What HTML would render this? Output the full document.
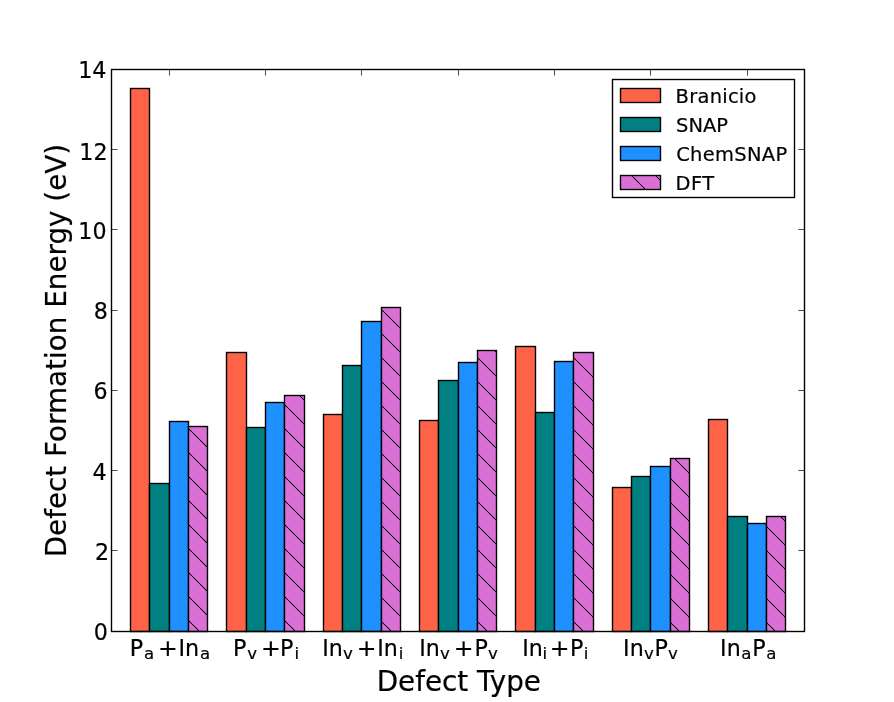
<!DOCTYPE html>
<html><head><meta charset="utf-8"><title>Defect Formation Energy</title>
<style>html,body{margin:0;padding:0;background:#fff}svg{display:block}text{font-family:"DejaVu Sans","Liberation Sans",sans-serif;fill:#000;stroke:#000;stroke-width:0.2px}</style></head><body>
<svg width="894" height="702" viewBox="0 0 894 702">
<defs><pattern id="h" patternUnits="userSpaceOnUse" x="0" y="0" width="24" height="24"><path d="M-2,-2 L26,26 M-2,22 L2,26 M22,-2 L26,2" stroke="#000" stroke-width="1" fill="none" shape-rendering="crispEdges"/><path d="M-2,-2 L26,26 M-2,22 L2,26 M22,-2 L26,2" stroke="#000" stroke-opacity="0.45" stroke-width="1.2" fill="none"/></pattern></defs>
<rect width="894" height="702" fill="#fff"/>
<rect x="130.50" y="88.50" width="19.00" height="543.00" fill="#ff6347"/>
<rect x="130.50" y="88.50" width="19.00" height="543.00" fill="none" stroke="#000" stroke-width="1.39"/>
<rect x="149.50" y="483.50" width="20.00" height="148.00" fill="#008080"/>
<rect x="149.50" y="483.50" width="20.00" height="148.00" fill="none" stroke="#000" stroke-width="1.39"/>
<rect x="169.50" y="421.50" width="19.00" height="210.00" fill="#1e90ff"/>
<rect x="169.50" y="421.50" width="19.00" height="210.00" fill="none" stroke="#000" stroke-width="1.39"/>
<rect x="188.50" y="426.50" width="19.00" height="205.00" fill="#da70d6"/>
<rect x="188.50" y="426.50" width="19.00" height="205.00" fill="url(#h)"/>
<rect x="188.50" y="426.50" width="19.00" height="205.00" fill="none" stroke="#000" stroke-width="1.39"/>
<rect x="226.50" y="352.50" width="20.00" height="279.00" fill="#ff6347"/>
<rect x="226.50" y="352.50" width="20.00" height="279.00" fill="none" stroke="#000" stroke-width="1.39"/>
<rect x="246.50" y="427.50" width="19.00" height="204.00" fill="#008080"/>
<rect x="246.50" y="427.50" width="19.00" height="204.00" fill="none" stroke="#000" stroke-width="1.39"/>
<rect x="265.50" y="402.50" width="19.00" height="229.00" fill="#1e90ff"/>
<rect x="265.50" y="402.50" width="19.00" height="229.00" fill="none" stroke="#000" stroke-width="1.39"/>
<rect x="284.50" y="395.50" width="20.00" height="236.00" fill="#da70d6"/>
<rect x="284.50" y="395.50" width="20.00" height="236.00" fill="url(#h)"/>
<rect x="284.50" y="395.50" width="20.00" height="236.00" fill="none" stroke="#000" stroke-width="1.39"/>
<rect x="323.50" y="414.50" width="19.00" height="217.00" fill="#ff6347"/>
<rect x="323.50" y="414.50" width="19.00" height="217.00" fill="none" stroke="#000" stroke-width="1.39"/>
<rect x="342.50" y="365.50" width="19.00" height="266.00" fill="#008080"/>
<rect x="342.50" y="365.50" width="19.00" height="266.00" fill="none" stroke="#000" stroke-width="1.39"/>
<rect x="361.50" y="321.50" width="20.00" height="310.00" fill="#1e90ff"/>
<rect x="361.50" y="321.50" width="20.00" height="310.00" fill="none" stroke="#000" stroke-width="1.39"/>
<rect x="381.50" y="307.50" width="19.00" height="324.00" fill="#da70d6"/>
<rect x="381.50" y="307.50" width="19.00" height="324.00" fill="url(#h)"/>
<rect x="381.50" y="307.50" width="19.00" height="324.00" fill="none" stroke="#000" stroke-width="1.39"/>
<rect x="419.50" y="420.50" width="19.00" height="211.00" fill="#ff6347"/>
<rect x="419.50" y="420.50" width="19.00" height="211.00" fill="none" stroke="#000" stroke-width="1.39"/>
<rect x="438.50" y="380.50" width="20.00" height="251.00" fill="#008080"/>
<rect x="438.50" y="380.50" width="20.00" height="251.00" fill="none" stroke="#000" stroke-width="1.39"/>
<rect x="458.50" y="362.50" width="19.00" height="269.00" fill="#1e90ff"/>
<rect x="458.50" y="362.50" width="19.00" height="269.00" fill="none" stroke="#000" stroke-width="1.39"/>
<rect x="477.50" y="350.50" width="19.00" height="281.00" fill="#da70d6"/>
<rect x="477.50" y="350.50" width="19.00" height="281.00" fill="url(#h)"/>
<rect x="477.50" y="350.50" width="19.00" height="281.00" fill="none" stroke="#000" stroke-width="1.39"/>
<rect x="515.50" y="346.50" width="20.00" height="285.00" fill="#ff6347"/>
<rect x="515.50" y="346.50" width="20.00" height="285.00" fill="none" stroke="#000" stroke-width="1.39"/>
<rect x="535.50" y="412.50" width="19.00" height="219.00" fill="#008080"/>
<rect x="535.50" y="412.50" width="19.00" height="219.00" fill="none" stroke="#000" stroke-width="1.39"/>
<rect x="554.50" y="361.50" width="19.00" height="270.00" fill="#1e90ff"/>
<rect x="554.50" y="361.50" width="19.00" height="270.00" fill="none" stroke="#000" stroke-width="1.39"/>
<rect x="573.50" y="352.50" width="20.00" height="279.00" fill="#da70d6"/>
<rect x="573.50" y="352.50" width="20.00" height="279.00" fill="url(#h)"/>
<rect x="573.50" y="352.50" width="20.00" height="279.00" fill="none" stroke="#000" stroke-width="1.39"/>
<rect x="612.50" y="487.50" width="19.00" height="144.00" fill="#ff6347"/>
<rect x="612.50" y="487.50" width="19.00" height="144.00" fill="none" stroke="#000" stroke-width="1.39"/>
<rect x="631.50" y="476.50" width="19.00" height="155.00" fill="#008080"/>
<rect x="631.50" y="476.50" width="19.00" height="155.00" fill="none" stroke="#000" stroke-width="1.39"/>
<rect x="650.50" y="466.50" width="20.00" height="165.00" fill="#1e90ff"/>
<rect x="650.50" y="466.50" width="20.00" height="165.00" fill="none" stroke="#000" stroke-width="1.39"/>
<rect x="670.50" y="458.50" width="19.00" height="173.00" fill="#da70d6"/>
<rect x="670.50" y="458.50" width="19.00" height="173.00" fill="url(#h)"/>
<rect x="670.50" y="458.50" width="19.00" height="173.00" fill="none" stroke="#000" stroke-width="1.39"/>
<rect x="708.50" y="419.50" width="19.00" height="212.00" fill="#ff6347"/>
<rect x="708.50" y="419.50" width="19.00" height="212.00" fill="none" stroke="#000" stroke-width="1.39"/>
<rect x="727.50" y="516.50" width="20.00" height="115.00" fill="#008080"/>
<rect x="727.50" y="516.50" width="20.00" height="115.00" fill="none" stroke="#000" stroke-width="1.39"/>
<rect x="747.50" y="523.50" width="19.00" height="108.00" fill="#1e90ff"/>
<rect x="747.50" y="523.50" width="19.00" height="108.00" fill="none" stroke="#000" stroke-width="1.39"/>
<rect x="766.50" y="516.50" width="19.00" height="115.00" fill="#da70d6"/>
<rect x="766.50" y="516.50" width="19.00" height="115.00" fill="url(#h)"/>
<rect x="766.50" y="516.50" width="19.00" height="115.00" fill="none" stroke="#000" stroke-width="1.39"/>
<path d="M169.50,69.5 v6.1 M169.50,631.5 v-6.1 M265.50,69.5 v6.1 M265.50,631.5 v-6.1 M361.50,69.5 v6.1 M361.50,631.5 v-6.1 M458.50,69.5 v6.1 M458.50,631.5 v-6.1 M554.50,69.5 v6.1 M554.50,631.5 v-6.1 M650.50,69.5 v6.1 M650.50,631.5 v-6.1 M747.50,69.5 v6.1 M747.50,631.5 v-6.1 M111.5,631.50 h6.1 M804.5,631.50 h-6.1 M111.5,550.50 h6.1 M804.5,550.50 h-6.1 M111.5,470.50 h6.1 M804.5,470.50 h-6.1 M111.5,390.50 h6.1 M804.5,390.50 h-6.1 M111.5,310.50 h6.1 M804.5,310.50 h-6.1 M111.5,229.50 h6.1 M804.5,229.50 h-6.1 M111.5,149.50 h6.1 M804.5,149.50 h-6.1 M111.5,69.50 h6.1 M804.5,69.50 h-6.1" stroke="#000" stroke-width="0.7" fill="none"/>
<rect x="111.5" y="69.5" width="693.00" height="562.00" fill="none" stroke="#000" stroke-width="1.39"/>
<text x="107.75" y="639.90" font-size="22.2" text-anchor="end">0</text>
<text x="109.0" y="559.80" font-size="22.2" text-anchor="end">2</text>
<text x="106.5" y="480.00" font-size="22.2" text-anchor="end">4</text>
<text x="107.55" y="399.10" font-size="22.2" text-anchor="end">6</text>
<text x="107.8" y="318.70" font-size="22.2" text-anchor="end">8</text>
<text x="106.5" y="239.20" font-size="22.2" text-anchor="end">10</text>
<text x="107.6" y="159.50" font-size="22.2" text-anchor="end">12</text>
<text x="106.4" y="77.80" font-size="22.2" text-anchor="end">14</text>
<text font-size="22.2"><tspan x="129.82" y="655.80">P</tspan><tspan x="144.00" y="659.00" font-size="16.6">a</tspan><tspan x="157.95" y="655.80" font-size="23.6">+</tspan><tspan x="178.42" y="655.80">In</tspan><tspan x="200.10" y="659.00" font-size="16.6">a</tspan></text>
<text font-size="22.2"><tspan x="233.12" y="655.80">P</tspan><tspan x="247.30" y="659.00" font-size="16.6">v</tspan><tspan x="260.95" y="655.80" font-size="23.6">+</tspan><tspan x="280.12" y="655.80">P</tspan><tspan x="294.54" y="659.00" font-size="16.6">i</tspan></text>
<text font-size="22.2"><tspan x="322.32" y="655.80">In</tspan><tspan x="343.10" y="659.00" font-size="16.6">v</tspan><tspan x="356.65" y="655.80" font-size="23.6">+</tspan><tspan x="377.32" y="655.80">In</tspan><tspan x="398.74" y="659.00" font-size="16.6">i</tspan></text>
<text font-size="22.2"><tspan x="419.32" y="655.80">In</tspan><tspan x="440.10" y="659.00" font-size="16.6">v</tspan><tspan x="453.85" y="655.80" font-size="23.6">+</tspan><tspan x="474.42" y="655.80">P</tspan><tspan x="488.10" y="659.00" font-size="16.6">v</tspan></text>
<text font-size="22.2"><tspan x="522.32" y="655.80">In</tspan><tspan x="542.54" y="659.00" font-size="16.6">i</tspan><tspan x="549.65" y="655.80" font-size="23.6">+</tspan><tspan x="570.12" y="655.80">P</tspan><tspan x="583.74" y="659.00" font-size="16.6">i</tspan></text>
<text font-size="22.2"><tspan x="623.12" y="655.80">In</tspan><tspan x="644.00" y="659.00" font-size="16.6">v</tspan><tspan x="654.42" y="655.80">P</tspan><tspan x="668.00" y="659.00" font-size="16.6">v</tspan></text>
<text font-size="22.2"><tspan x="720.12" y="655.80">In</tspan><tspan x="741.30" y="659.00" font-size="16.6">a</tspan><tspan x="752.32" y="655.80">P</tspan><tspan x="766.30" y="659.00" font-size="16.6">a</tspan></text>
<text x="458.8" y="690.7" font-size="27.8" text-anchor="middle">Defect Type</text>
<text transform="translate(65.8,350.6) rotate(-90)" font-size="27.8" text-anchor="middle">Defect Formation Energy (eV)</text>
<rect x="612.5" y="79.5" width="182" height="118" fill="#fff" stroke="#000" stroke-width="1.39"/>
<rect x="620.5" y="88.50" width="40" height="14" fill="#ff6347"/>
<rect x="620.5" y="88.50" width="40" height="14" fill="none" stroke="#000" stroke-width="1.39"/>
<text x="675.6" y="102.7" font-size="19.44" letter-spacing="0.27">Branicio</text>
<rect x="620.5" y="117.50" width="40" height="14" fill="#008080"/>
<rect x="620.5" y="117.50" width="40" height="14" fill="none" stroke="#000" stroke-width="1.39"/>
<text x="676.1" y="131.6" font-size="19.44">SNAP</text>
<rect x="620.5" y="146.50" width="40" height="14" fill="#1e90ff"/>
<rect x="620.5" y="146.50" width="40" height="14" fill="none" stroke="#000" stroke-width="1.39"/>
<text x="676.2" y="160.5" font-size="19.44" letter-spacing="0.32">ChemSNAP</text>
<rect x="620.5" y="175.50" width="40" height="14" fill="#da70d6"/>
<rect x="620.5" y="175.50" width="40" height="14" fill="url(#h)"/>
<rect x="620.5" y="175.50" width="40" height="14" fill="none" stroke="#000" stroke-width="1.39"/>
<text x="675.5" y="189.9" font-size="19.44" letter-spacing="0.45">DFT</text>
</svg></body></html>
